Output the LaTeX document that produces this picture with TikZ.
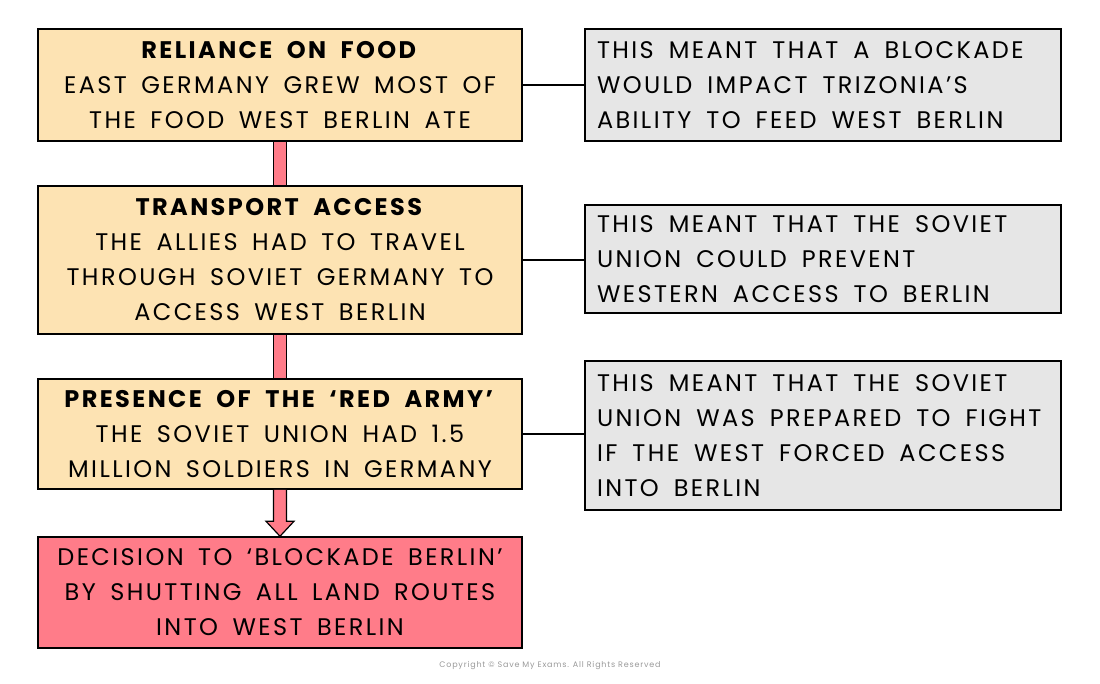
\documentclass[tikz,border=0pt]{standalone}
\usepackage{fontspec}
\setmainfont{Poppins}[LetterSpace=10]
\usetikzlibrary{calc}
\definecolor{tan}{HTML}{FDE3B3}
\definecolor{gry}{HTML}{E6E6E6}
\definecolor{rd}{HTML}{FF7C89}
\newcommand\boxfontL{\fontsize{24}{35}\selectfont\spaceskip 14.5pt\relax}
\newcommand\boxfontR{\fontsize{24}{35}\selectfont}
\newcommand\wideR{\spaceskip 15pt\relax}
\tikzset{
  lbox/.style={draw=black, line width=1.5pt, fill=tan, minimum width=484pt, inner sep=0pt, align=center,
    font=\boxfontL},
  rbox/.style={draw=black, line width=1.2pt, fill=gry, minimum width=476pt, inner sep=0pt, text width=452pt, align=left,
    font=\boxfontR, execute at begin node=\wideR},
  redbox/.style={lbox, fill=rd},
  bar/.style={draw=black, line width=1.2pt, fill=rd},
  link/.style={draw=black, line width=1.2pt}
}
\begin{document}
\begin{tikzpicture}[x=1pt,y=-1pt]
\useasboundingbox (0,0) rectangle (1100,683);
\node[lbox, minimum height=112pt] (b1) at (280,85) {\textbf{RELIANCE ON FOOD}\\EAST GERMANY GREW MOST OF\\THE FOOD WEST BERLIN ATE};
\node[lbox, minimum height=148pt] (b2) at (280,260) {\textbf{TRANSPORT ACCESS}\\THE ALLIES HAD TO TRAVEL\\THROUGH SOVIET GERMANY TO\\ACCESS WEST BERLIN};
\node[lbox, minimum height=110pt] (b3) at (280,434) {\textbf{PRESENCE OF THE ‘RED ARMY’}\\THE SOVIET UNION HAD 1.5\\MILLION SOLDIERS IN GERMANY};
\node[redbox, minimum height=111pt] (b4) at (280,592.5) {DECISION TO ‘BLOCKADE BERLIN’\\BY SHUTTING ALL LAND ROUTES\\INTO WEST BERLIN};
\node[rbox, minimum height=112pt] (r1) at (823,85) {THIS MEANT THAT A BLOCKADE\\WOULD IMPACT TRIZONIA’S\\ABILITY TO FEED WEST BERLIN};
\node[rbox, minimum height=108pt] (r2) at (823,259) {THIS MEANT THAT THE SOVIET\\UNION COULD PREVENT\\WESTERN ACCESS TO BERLIN};
\node[rbox, minimum height=149pt] (r3) at (823,435.5) {THIS MEANT THAT THE SOVIET\\UNION WAS PREPARED TO FIGHT\\IF THE WEST FORCED ACCESS\\INTO BERLIN};
\draw[bar] ($(b1.south)+(-6.5,0)$) rectangle ($(b2.north)+(6.5,0)$);
\draw[bar] ($(b2.south)+(-6.5,0)$) rectangle ($(b3.north)+(6.5,0)$);
\draw[bar, line join=miter] ($(b3.south)+(-6.5,0)$) -- ($(b4.north)+(-6.5,-15)$) -- ($(b4.north)+(-14,-15)$) -- (b4.north) -- ($(b4.north)+(14,-15)$) -- ($(b4.north)+(6.5,-15)$) -- ($(b3.south)+(6.5,0)$);
\draw[link] (b1.east) -- (b1.east -| r1.west);
\draw[link] (b2.east) -- (b2.east -| r2.west);
\draw[link] (b3.east) -- (b3.east -| r3.west);
\node[text=black!40, font=\fontsize{8}{10}\selectfont] (cp) at (550,666) {Copyright © Save My Exams. All Rights Reserved};
\end{tikzpicture}
\end{document}
